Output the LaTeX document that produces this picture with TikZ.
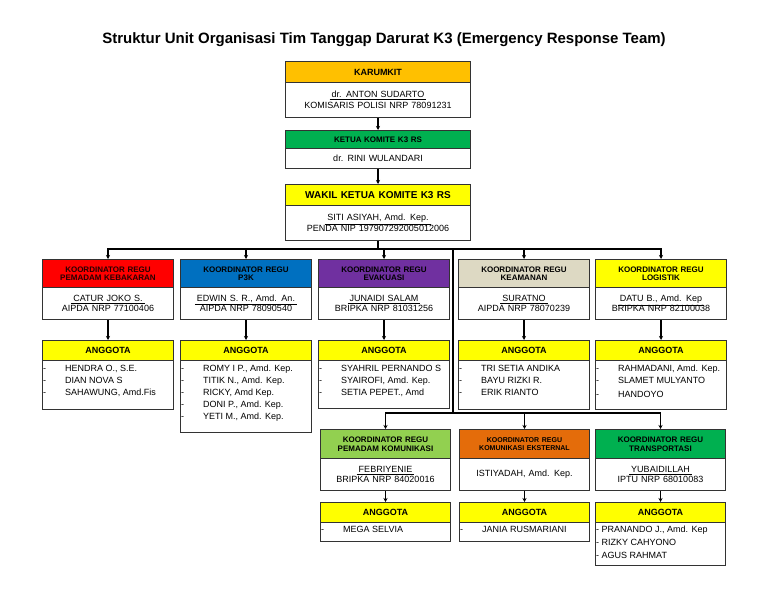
\documentclass[tikz,border=0pt]{standalone}
\usepackage{fontspec}
\setmainfont{Liberation Sans}
\usetikzlibrary{arrows.meta}
\definecolor{cOr}{HTML}{FFC000}
\definecolor{cGr}{HTML}{00B050}
\definecolor{cYe}{HTML}{FFFF00}
\definecolor{cRe}{HTML}{FF0000}
\definecolor{cBl}{HTML}{0070C0}
\definecolor{cPu}{HTML}{7030A0}
\definecolor{cTa}{HTML}{DDD9C3}
\definecolor{cLg}{HTML}{92D050}
\definecolor{cOe}{HTML}{E46C0A}
\tikzset{
 box/.style={draw=black!80,line width=1pt,inner sep=0pt,anchor=north west,align=center},
 hdr/.style={box,font=\bfseries\fontsize{8}{8.5}\selectfont},
 bod/.style={box,fill=white,font=\fontsize{9}{10.5}\selectfont},
 mem/.style={anchor=north west,inner sep=0pt,align=left,font=\fontsize{9}{12}\selectfont},
 arr/.style={line width=1.3pt,-{Stealth[length=4pt,width=4pt]}},
 ln/.style={line width=1.3pt}
}
\newcommand{\ul}[1]{\underline{\hspace{2pt}#1\hspace{2pt}}}
\newcommand{\dl}[1]{\makebox[22pt][l]{-}#1}
\begin{document}
\begin{tikzpicture}[x=1pt,y=-1pt]
\useasboundingbox (0,0) rectangle (768,594);
\node[font=\bfseries\fontsize{15}{16}\selectfont] (title) at (384,40) {Struktur Unit Organisasi Tim Tanggap Darurat K3 (Emergency Response Team)};
% top chain
\node[hdr,fill=cOr,text width=185pt,minimum height=21pt,font=\bfseries\fontsize{9}{10}\selectfont] (kh) at (285,61) {KARUMKIT};
\node[bod,text width=185pt,minimum height=35pt] (kb) at (285,82) {\ul{dr. ANTON SUDARTO}\\KOMISARIS POLISI NRP 78091231};
\node[hdr,fill=cGr,text width=185pt,minimum height=18pt] (th) at (285,130) {KETUA KOMITE K3 RS};
\node[bod,text width=185pt,minimum height=20pt] (tb) at (285,148) {dr. RINI WULANDARI};
\node[hdr,fill=cYe,text width=185pt,minimum height=21pt,font=\bfseries\fontsize{10}{11}\selectfont] (wh) at (285,184) {WAKIL KETUA KOMITE K3 RS};
\node[bod,text width=185pt,minimum height=35pt] (wb) at (285,205) {\ul{SITI ASIYAH, Amd. Kep.}\\PENDA NIP 197907292005012006};
\draw[arr] (kb.south) -- (th.north);
\draw[arr] (tb.south) -- (wh.north);
% row 1 coordinators
\foreach \n/\x/\c/\h/\b in {
 a/42/cRe/{\textcolor{black!85!red}{KOORDINATOR REGU}\\\textcolor{black!85!red}{PEMADAM KEBAKARAN}}/{\ul{CATUR JOKO S.}\\AIPDA NRP 77100406},
 b/180/cBl/{KOORDINATOR REGU\\P3K}/{\ul{EDWIN S. R., Amd. An.}\\AIPDA NRP 78090540},
 c/318/cPu/{KOORDINATOR REGU\\EVAKUASI}/{\ul{JUNAIDI SALAM}\\BRIPKA NRP 81031256},
 d/458/cTa/{KOORDINATOR REGU\\KEAMANAN}/{\ul{SURATNO}\\AIPDA NRP 78070239},
 e/595/cYe/{KOORDINATOR REGU\\LOGISTIK}/{\ul{DATU B., Amd. Kep}\\BRIPKA NRP 82100038}}{
 \node[hdr,fill=\c,text width=131pt,minimum height=28pt] (\n h) at (\x,259) {\h};
 \node[bod,text width=131pt,minimum height=32pt] (\n b) at (\x,287) {\b};
 \node[hdr,fill=cYe,text width=131pt,minimum height=20pt,font=\bfseries\fontsize{9}{10}\selectfont] (\n ah) at (\x,340) {ANGGOTA};
 \draw[arr] (\n b.south) -- (\n ah.north);
}
\node[box,text width=131pt,minimum height=49pt] (aab) at (42,360) {};
\node[box,text width=131pt,minimum height=72pt] (bab) at (180,360) {};
\node[box,text width=131pt,minimum height=48pt] (cab) at (318,360) {};
\node[box,text width=131pt,minimum height=49pt] (dab) at (458,360) {};
\node[box,text width=131pt,minimum height=49pt] (eab) at (595,360) {};
\node[mem] (am) at (43,365) {\dl{HENDRA O., S.E.}\\\dl{DIAN NOVA S}\\\dl{SAHAWUNG, Amd.Fis}};
\node[mem] (bm) at (181,365) {\dl{ROMY I P., Amd. Kep.}\\\dl{TITIK N., Amd. Kep.}\\\dl{RICKY, Amd Kep.}\\\dl{DONI P., Amd. Kep.}\\\dl{YETI M., Amd. Kep.}};
\node[mem] (cm) at (319,365) {\dl{SYAHRIL PERNANDO S}\\\dl{SYAIROFI, Amd. Kep.}\\\dl{SETIA PEPET., Amd}};
\node[mem] (dm) at (459,365) {\dl{TRI SETIA ANDIKA}\\\dl{BAYU RIZKI R.}\\\dl{ERIK RIANTO}};
\node[mem] (em) at (596,365) {\dl{RAHMADANI, Amd. Kep.}\\\dl{SLAMET MULYANTO}\\[2pt]\dl{HANDOYO}};
% row 2
\foreach \n/\x/\c/\h/\b in {
 f/320/cLg/{KOORDINATOR REGU\\PEMADAM KOMUNIKASI}/{\ul{FEBRIYENIE}\\BRIPKA NRP 84020016},
 g/459/cOe/{\fontsize{7}{8}\selectfont KOORDINATOR REGU\\\fontsize{7}{8}\selectfont KOMUNIKASI EKSTERNAL}/{ISTIYADAH, Amd. Kep.},
 h/595/cGr/{KOORDINATOR REGU\\TRANSPORTASI}/{\ul{YUBAIDILLAH}\\IPTU NRP 68010083}}{
 \node[hdr,fill=\c,text width=130pt,minimum height=29pt] (\n h) at (\x,429) {\h};
 \node[bod,text width=130pt,minimum height=32pt] (\n b) at (\x,458) {\b};
 \node[hdr,fill=cYe,text width=130pt,minimum height=20pt,font=\bfseries\fontsize{9}{10}\selectfont] (\n ah) at (\x,502) {ANGGOTA};
 \draw[arr] (\n b.south) -- (\n ah.north);
}
\node[box,text width=130pt,minimum height=19pt] (fab) at (320,522) {};
\node[box,text width=130pt,minimum height=19pt] (gab) at (459,522) {};
\node[box,text width=130pt,minimum height=43pt] (hab) at (595,522) {};
\node[mem] (fm) at (321,526) {\dl{MEGA SELVIA}};
\node[mem] (gm) at (460,526) {\dl{JANIA RUSMARIANI}};
\node[mem,font=\fontsize{9}{13}\selectfont] (hm) at (596,526) {- PRANANDO J., Amd. Kep\\- RIZKY CAHYONO\\- AGUS RAHMAT};
% connectors
\coordinate (j1) at (453,248);
\coordinate (j2) at (453,413);
\foreach \n in {a,b,c,d,e}{\draw[arr] (wb.south) -- ++(0,8) -| (\n h.north);}
\draw[ln] (j1) -- (j2);
\foreach \n in {f,g,h}{\draw[arr] (j2) -| (\n h.north);}
\end{tikzpicture}
\end{document}
